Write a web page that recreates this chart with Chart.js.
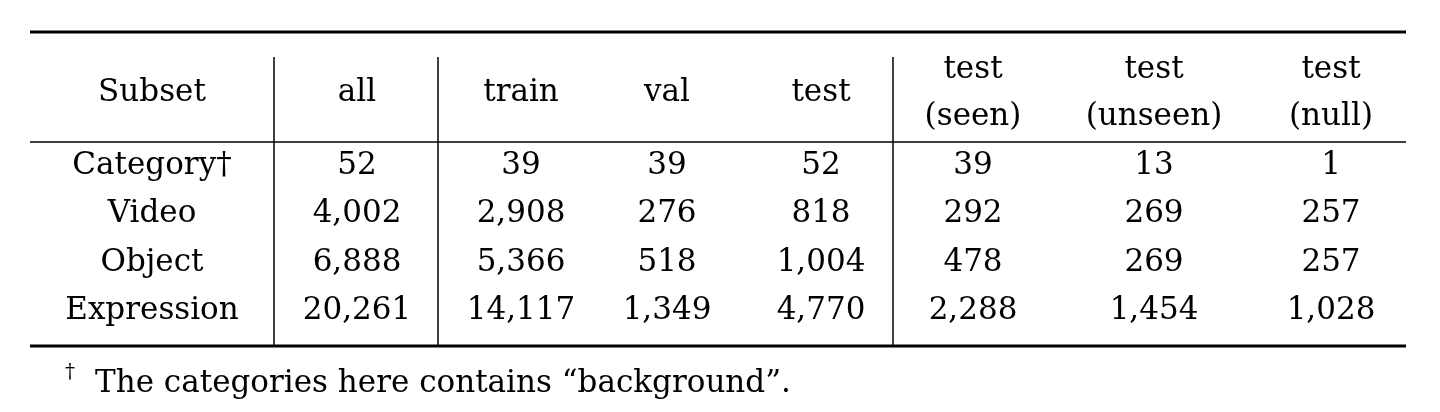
<!DOCTYPE html>
<html><head><meta charset="utf-8">
<script src="https://cdn.jsdelivr.net/npm/chart.js@4"></script>
<style>html,body{margin:0;padding:0;background:#fff}#w{width:1440px;height:412px}</style>
</head><body><div id="w"><canvas id="c"></canvas></div>
<script>
const rowHeader = "Subset";
const columns = [["all"],["train"],["val"],["test"],["test","(seen)"],["test","(unseen)"],["test","(null)"]];
const rowLabels = ["Category†","Video","Object","Expression"];
const category = ["52","39","39","52","39","13","1"];
const video = ["4,002","2,908","276","818","292","269","257"];
const object = ["6,888","5,366","518","1,004","478","269","257"];
const expression = ["20,261","14,117","1,349","4,770","2,288","1,454","1,028"];
const footnote = "The categories here contains “background”.";

const colX = [152,357,521,667,821,973,1154,1331];
const rowY = [166,214,263,311];
const vLines = [274,438,893];
const FONT = '31px "DejaVu Serif", "Liberation Serif", serif';

const tablePlugin = {
  id:'table',
  afterDraw(chart){
    const ctx = chart.ctx, xs = chart.scales.x, ys = chart.scales.y;
    const X = v=>xs.getPixelForValue(v), Y = v=>ys.getPixelForValue(v);
    ctx.save();
    ctx.fillStyle='#000'; ctx.strokeStyle='#000';
    ctx.font = FONT; ctx.textAlign='center'; ctx.textBaseline='middle';
    const line=(x1,y1,x2,y2,w)=>{ctx.lineWidth=w;ctx.beginPath();ctx.moveTo(X(x1),Y(y1));ctx.lineTo(X(x2),Y(y2));ctx.stroke();};
    line(30,32,1406,32,3);
    line(30,142,1406,142,1.5);
    line(30,346,1406,346,3);
    vLines.forEach(v=>line(v,57,v,345,1.5));
    ctx.fillText(rowHeader,X(colX[0]),Y(93));
    columns.forEach((c,i)=>{
      if(c.length===1) ctx.fillText(c[0],X(colX[i+1]),Y(93));
      else { ctx.fillText(c[0],X(colX[i+1]),Y(70)); ctx.fillText(c[1],X(colX[i+1]),Y(117)); }
    });
    const rows=[category,video,object,expression];
    rows.forEach((r,ri)=>{
      ctx.fillText(rowLabels[ri],X(colX[0]),Y(rowY[ri]));
      r.forEach((v,ci)=>ctx.fillText(v,X(colX[ci+1]),Y(rowY[ri])));
    });
    ctx.textAlign='left';
    ctx.font='20px "DejaVu Serif", serif';
    ctx.fillText('†',X(65),Y(373));
    ctx.font=FONT;
    ctx.fillText(footnote,X(95),Y(384));
    ctx.restore();
  }
};

new Chart(document.getElementById('c'),{
  type:'scatter',
  data:{datasets:[{data:[]}]},
  options:{
    responsive:true, maintainAspectRatio:false, animation:false,
    layout:{padding:0},
    plugins:{legend:{display:false},tooltip:{enabled:false}},
    scales:{
      x:{type:'linear',min:0,max:1440,display:false},
      y:{type:'linear',min:0,max:412,reverse:true,display:false}
    }
  },
  plugins:[tablePlugin]
});
</script></body></html>
